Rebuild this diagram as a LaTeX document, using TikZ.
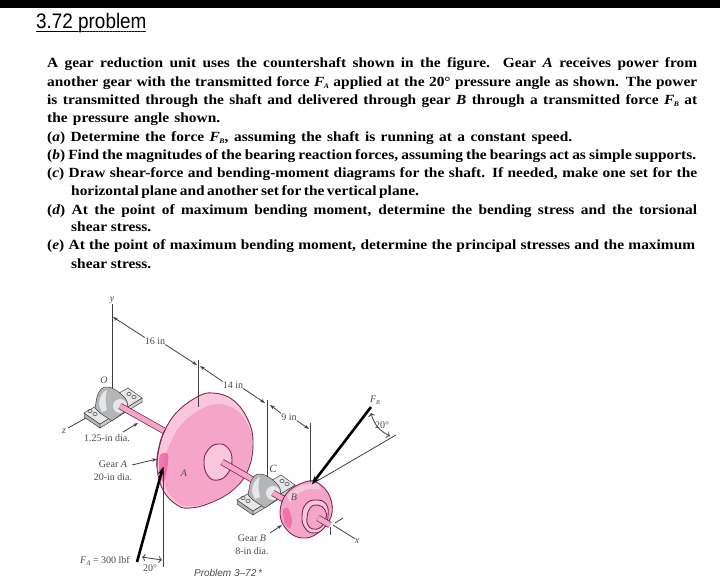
\documentclass[tikz,border=0pt]{standalone}
\usepackage{fontspec}
\setmainfont{Liberation Serif}
\newfontfamily\txtfont[FakeStretch=1.1]{Liberation Serif}
\newfontfamily\titlefont{Liberation Sans}
\newfontfamily\probfont{Liberation Sans}
\usetikzlibrary{arrows.meta}
\definecolor{gearpink}{HTML}{F5A5C8}
\definecolor{gearlight}{HTML}{FAC6DC}
\definecolor{gearhot}{HTML}{EC5FA0}
\definecolor{gearedge}{HTML}{7A2A55}
\definecolor{steel}{HTML}{B4B6B8}
\definecolor{steellight}{HTML}{E6E7E8}
\definecolor{figtext}{HTML}{4A4A4A}
\definecolor{dimline}{HTML}{404040}
\tikzset{
	txtline/.style={anchor=base west,inner sep=0pt,font=\fontsize{14}{14}\selectfont\txtfont\bfseries},
	figlabel/.style={inner sep=0pt,text=figtext,font=\fontsize{10}{10}\selectfont},
	figital/.style={figlabel,font=\fontsize{10}{10}\selectfont\itshape},
	dimarrow/.style={draw=dimline,line width=0.8pt,-{Stealth[length=5pt,width=3.5pt]}},
	thinline/.style={draw=dimline,line width=0.8pt},
	gearline/.style={draw=gearedge,line width=0.9pt},
	forcearrow/.style={draw=black,line width=2.6pt,-{Stealth[length=8pt,width=6pt]}},
	casting/.style={draw=dimline,line width=0.5pt},
}
\newcommand{\txtbox}[2]{\makebox[#1pt][s]{#2}}
\newcommand{\pinkshaft}[2]{\draw[gearedge,line width=6.5pt] #1--#2; \draw[gearpink,line width=5pt] #1--#2;}
\newcommand{\fsub}[1]{\textit{F\kern-0.5pt\raisebox{-2pt}{\scriptsize #1}}}
% bearing drawn at the position of the one at O, #1 is its shift
\newcommand{\bearing}[1]{
	\begin{scope}[shift={#1}]
		\filldraw[fill=steel,casting] (84,413)--(100,424)--(100,428)--(84,417)--cycle;
		\filldraw[fill=steel!70,casting] (100,424)--(142,398)--(142,402)--(100,428)--cycle;
		\filldraw[fill=steellight,casting] (84,413)--(128,388)--(142,398)--(100,424)--cycle;
		\foreach \cx/\cy in {90/411,95/414,129/394,134/397}{
			\draw[dimline,line width=0.5pt] (\cx,\cy) ellipse (2.2pt and 1.6pt);
		}
		\filldraw[fill=steel,casting] (95,408)--(97,397) .. controls (99,390) and (103,386) .. (107,387) .. controls (112,387) and (118,391) .. (122,395) .. controls (127,399) and (129,404) .. (127,410)--(112,421)--(100,413)--cycle;
		\fill[steellight] (99,405) .. controls (99,397) and (103,391) .. (107,390) .. controls (105,395) and (105,402) .. (107,410)--(102,412)--cycle;
		\fill[steellight] (120,406) circle (7pt);
	\end{scope}
}
\begin{document}
\begin{tikzpicture}[x=1pt,y=-1pt]
	\useasboundingbox (0,0) rectangle (720,584);
	\fill[white] (0,0) rectangle (720,584);
	\fill[black] (0,0) rectangle (720,8);

	%TITLE
	\node[anchor=base west,inner sep=0pt,xscale=0.9,font=\fontsize{21}{21}\selectfont\titlefont] (title) at (36,28) {3.72 problem};
	\draw[black,line width=0.9pt] (36,31)--(146,31);
	\draw[green!50!black,line width=0.8pt,dotted] (78,31.5)--(146,31.5);

	%TEXT
	\node[txtline] (l1) at (47,67) {\txtbox{650}{A gear reduction unit uses the countershaft shown in the figure. Gear \textit{A} receives power from}};
	\node[txtline] (l2) at (47,86) {\txtbox{650}{another gear with the transmitted force \fsub{A} applied at the 20\textdegree{} pressure angle as shown. The power}};
	\node[txtline] (l3) at (47,104) {\txtbox{650}{is transmitted through the shaft and delivered through gear \textit{B} through a transmitted force \fsub{B} at}};
	\node[txtline] (l4) at (47,122) {\txtbox{173}{the pressure angle shown.}};
	\node[txtline] (l5) at (47,141) {\txtbox{525}{(\textit{a}) Determine the force \fsub{B}, assuming the shaft is running at a constant speed.}};
	\node[txtline] (l6) at (47,159) {\txtbox{649}{(\textit{b}) Find the magnitudes of the bearing reaction forces, assuming the bearings act as simple supports.}};
	\node[txtline] (l7) at (47,177) {\txtbox{650}{(\textit{c}) Draw shear-force and bending-moment diagrams for the shaft. If needed, make one set for the}};
	\node[txtline] (l8) at (71,195) {\txtbox{337}{horizontal plane and another set for the vertical plane.}};
	\node[txtline] (l9) at (47,214) {\txtbox{650}{(\textit{d}) At the point of maximum bending moment, determine the bending stress and the torsional}};
	\node[txtline] (l10) at (71,231) {shear stress.};
	\node[txtline] (l11) at (47,249) {\txtbox{648}{(\textit{e}) At the point of maximum bending moment, determine the principal stresses and the maximum}};
	\node[txtline] (l12) at (71,268) {shear stress.};

	%BEARING O
	\draw[thinline] (68,428)--(95,413);
	\bearing{(0,0)}

	%SHAFT O TO A
	\pinkshaft{(120,406)}{(168,433)}

	%GEAR A
	\filldraw[fill=gearlight,gearline] plot[smooth cycle,tension=0.7] coordinates {(165,430) (177,412) (197,397) (213,393) (233,400) (248,420) (253,443) (248,470) (233,490) (210,503) (190,508) (177,505) (163,490) (157,467) (159,447)};
	\fill[gearpink] plot[smooth cycle,tension=0.7] coordinates {(171,442) (181,425) (198,411) (217,404) (236,410) (248,425) (252,443) (247,470) (233,489) (210,502) (191,506) (178,503) (166,488) (163,465)};
	\fill[gearhot,opacity=0.75] plot[smooth cycle] coordinates {(160,455) (168,454) (167,470) (163,482) (159,470)};
	\draw[gearline] (165,430) .. controls (160,440) and (157,455) .. (157,467);
	\filldraw[fill=gearlight,gearline] plot[smooth cycle,tension=0.8] coordinates {(204,462) (208,450) (218,444) (228,448) (232,460) (228,473) (218,480) (208,476)};
	\node[figital] (labA) at (184,473) {A};

	%BEARING C
	\pinkshaft{(222,462)}{(255,481)}
	\bearing{(153,87)}
	\pinkshaft{(273,493)}{(292,504)}

	%GEAR B
	\filldraw[fill=gearpink,gearline] plot[smooth cycle,tension=0.7] coordinates {(280,513) (287,493) (305,482) (318,483) (330,497) (331,517) (318,533) (302,538) (287,530)};
	\fill[gearlight] (287,495) .. controls (295,486) and (308,482) .. (318,484)--(322,490) .. controls (308,486) and (296,492) .. (290,503)--cycle;
	\fill[gearhot,opacity=0.7] plot[smooth cycle] coordinates {(283,510) (288,508) (292,520) (290,528) (285,524)};
	\filldraw[fill=gearlight,gearline] plot[smooth cycle,tension=0.8] coordinates {(302,516) (306,504) (316,500) (326,504) (328,516) (324,528) (314,533) (305,528)};
	\filldraw[fill=gearpink,gearline] plot[smooth cycle,tension=0.8] coordinates {(307,518) (310,508) (318,505) (325,510) (326,518) (321,527) (313,529) (308,525)};
	\pinkshaft{(318,518)}{(330,525)}
	\node[figital] (labB) at (294,497) {B};
	\node[figital,font=\fontsize{11}{11}\selectfont\itshape] (labC) at (273,469) {C};

	%AXES
	\node[figital] (yaxis) at (112,300) {y};
	\node[figital] (origin) at (104,380) {O};
	\node[figital] (zaxis) at (64,431) {z};
	\node[figital] (xaxis) at (357,541) {x};
	\draw[thinline] (yaxis.south)--(112,388);
	\draw[thinline] (333,525)--(xaxis.north west);
	\draw[thinline] (330,527)--(330,535);
	\draw[thinline] (335,523)--(343,518);

	%DIMENSIONS
	\node[figlabel] (dimA) at (155,341) {16 in};
	\node[figlabel] (dimB) at (233,385) {14 in};
	\node[figlabel] (dimC) at (289,417) {9 in};
	\draw[thinline] (198,360)--(198,407);
	\draw[thinline] (267,400)--(267,477);
	\draw[thinline] (310,423)--(310,482);
	\draw[dimarrow] (dimA.north west)--(113,317);
	\draw[dimarrow] (dimA.south east)--(197,365);
	\draw[dimarrow] (dimB.north west)--(200,366);
	\draw[dimarrow] (dimB.south east)--(265,403);
	\draw[dimarrow] (dimC.north west)--(270,405);
	\draw[dimarrow] (dimC.south east)--(309,429);

	%FORCES
	\node[figital] (forceB) at (375,400) {F\raisebox{-1.5pt}{\fontsize{6}{6}\selectfont B}};
	\node[figlabel] (angB) at (382,425) {20\textdegree};
	\coordinate (tipB) at (312,484);
	\draw[thinline] (tipB)--(396,435);
	\draw[forcearrow] (371,407)--(tipB);
	\draw[dimarrow,<->] (371,413) to[bend right=25] (390,436);
	\node[figlabel] (forceA) at (105,561) {\textit{F\raisebox{-1.5pt}{\fontsize{7}{7}\selectfont A}} = 300 lbf};
	\node[figlabel] (angA) at (150,568) {20\textdegree};
	\coordinate (tipA) at (163,467);
	\draw[thinline] (tipA)--(163,567);
	\draw[forcearrow] (137,562)--(tipA);
	\draw[dimarrow,<->] (142,557)--(162,560);

	%CALLOUTS
	\node[figlabel] (dia) at (107,438) {1.25-in dia.};
	\draw[dimarrow] (123,432)--(138,423);
	\node[figlabel,align=center] (gearAtxt) at (113,471) {Gear \textit{A}\\[3pt]20-in dia.};
	\draw[dimarrow] (132,465)--(157,459);
	\node[figlabel,align=center] (gearBtxt) at (252,545) {Gear \textit{B}\\[3pt]8-in dia.};
	\draw[dimarrow] (270,533)--(282,525);
	\node[figlabel,font=\fontsize{10}{10}\selectfont\probfont\itshape] (prob) at (228,573) {Problem 3\textendash72\,*};
\end{tikzpicture}
\end{document}
